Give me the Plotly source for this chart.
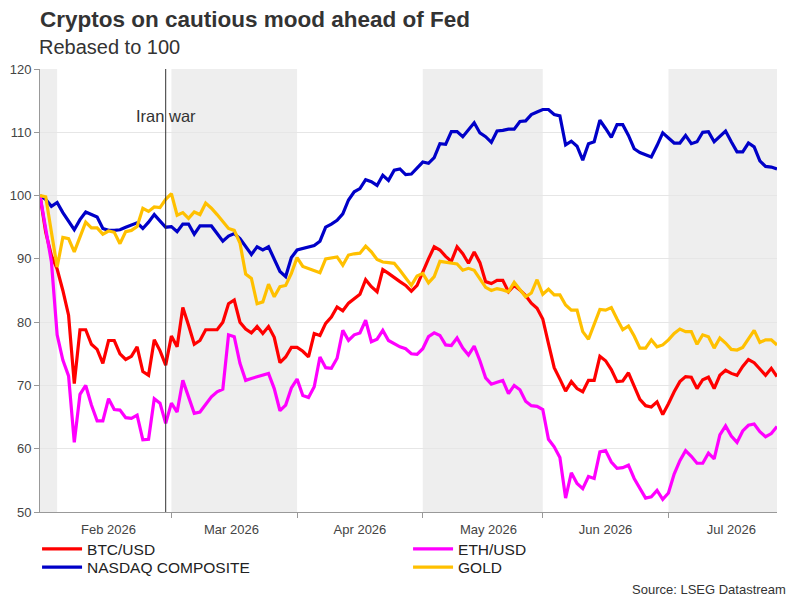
import plotly.graph_objects as go
import pandas as pd

# business days, Jan 28 - Jul 28 2026 (130 sessions)
dates = pd.bdate_range("2026-01-28", "2026-07-28")

btc = [100, 94.2, 90.5, 88.4, 85.0, 81.1, 70.3, 78.8, 78.8, 76.5,
       75.7, 73.5, 77.1, 77.1, 75.0, 74.1, 74.6, 76.1, 72.2, 71.6,
       77.2, 75.5, 73.2, 77.8, 76.1, 82.3, 79.5, 76.5, 77.1, 78.8,
       78.8, 78.8, 80.0, 82.9, 83.5, 80.0, 78.9, 78.3, 79.3, 78.2,
       79.3, 77.6, 73.6, 74.5, 76.0, 76.0, 75.4, 74.5, 78.2, 77.9,
       79.8, 80.8, 82.4, 81.8, 83.0, 83.7, 84.4, 86.7, 85.6, 84.8,
       88.3, 87.7, 87.0, 86.4, 85.8, 84.9, 85.8, 88.0, 90.0, 91.9,
       91.4, 90.4, 89.6, 91.9, 90.8, 89.3, 91.1, 89.4, 86.4, 86.1,
       86.6, 86.6, 84.8, 85.8, 85.1, 84.2, 83.0, 82.2, 80.5, 76.6,
       72.8, 71.0, 69.1, 70.6, 69.5, 69.0, 70.8, 70.8, 74.6, 73.9,
       72.5, 70.6, 70.7, 72.0, 70.0, 67.8, 66.8, 66.6, 67.4, 65.4,
       67.1, 69.0, 70.6, 71.4, 71.3, 69.5, 70.9, 71.3, 69.5, 71.6,
       72.4, 71.9, 71.6, 73.0, 74.1, 73.6, 72.6, 71.6, 72.7, 71.4]

eth = [100, 94.5, 89.5, 78.0, 74.0, 71.5, 61.0, 68.6, 70.0, 66.9,
       64.4, 64.4, 67.9, 66.2, 66.1, 64.9, 64.8, 65.3, 61.4, 61.5,
       67.9, 67.2, 64.0, 67.2, 65.8, 70.8, 68.2, 65.6, 65.8, 67.1,
       68.2, 69.0, 69.4, 78.0, 77.7, 73.5, 70.8, 71.1, 71.4, 71.7,
       71.9, 69.5, 66.0, 66.9, 69.6, 71.0, 68.4, 68.1, 69.8, 74.5,
       72.8, 72.7, 74.3, 78.7, 77.1, 78.0, 78.3, 80.3, 76.9, 77.3,
       78.7, 77.1, 76.6, 76.1, 75.8, 75.0, 74.9, 75.8, 77.7, 78.3,
       77.9, 76.4, 76.3, 77.5, 75.9, 74.8, 76.2, 73.9, 71.2, 70.2,
       70.5, 70.8, 68.7, 70.0, 69.3, 67.5, 66.8, 66.7, 66.2, 61.5,
       60.3, 58.6, 52.2, 56.2, 54.5, 53.7, 55.6, 55.3, 59.5, 59.7,
       57.9, 56.9, 57.0, 57.4, 55.3, 53.8, 52.2, 52.4, 53.4, 52.0,
       53.0, 56.0, 58.1, 59.7, 58.8, 57.7, 57.7, 59.3, 58.4, 62.2,
       63.6, 62.0, 61.0, 62.8, 63.7, 63.9, 62.7, 61.9, 62.4, 63.5]

nasdaq = [100, 99.4, 98.3, 98.9, 97.3, 96.0, 94.6, 96.2, 97.4, 97.0,
          96.6, 94.8, 94.5, 94.5, 94.6, 95.0, 95.3, 95.7, 94.8, 95.8,
          97.0, 96.0, 95.0, 95.1, 94.3, 95.5, 95.5, 93.9, 95.2, 95.2,
          95.2, 94.0, 92.8, 93.6, 94.0, 93.2, 92.0, 90.7, 91.9, 91.4,
          91.9, 89.8, 88.0, 87.2, 90.2, 91.4, 91.6, 91.9, 92.1, 92.8,
          95.0, 95.5, 96.1, 97.1, 99.3, 100.6, 101.1, 102.5, 102.2, 101.6,
          103.2, 102.4, 104.0, 104.2, 103.3, 103.4, 104.3, 105.3, 105.1, 106.0,
          108.2, 108.1, 110.1, 110.1, 109.3, 110.4, 111.5, 109.9, 109.3, 108.4,
          110.2, 110.3, 110.5, 110.5, 111.7, 111.8, 112.8, 113.2, 113.6, 113.6,
          112.8, 112.6, 108.0, 108.6, 107.8, 105.6, 108.2, 108.5, 111.9, 110.6,
          109.2, 111.2, 111.2, 109.5, 107.4, 106.8, 106.5, 106.1, 107.9, 109.9,
          109.1, 108.3, 108.3, 109.5, 108.2, 108.5, 110.0, 110.1, 108.5, 109.4,
          110.2, 108.5, 106.9, 106.9, 108.3, 107.7, 105.5, 104.6, 104.5, 104.2]

gold = [100, 99.8, 94.2, 88.7, 93.4, 93.2, 91.1, 93.5, 95.8, 94.9,
        94.9, 93.9, 94.4, 94.2, 92.4, 94.3, 94.5, 95.1, 98.0, 97.5,
        98.2, 98.1, 99.4, 100.3, 96.9, 97.3, 96.4, 97.4, 97.0, 98.8,
        98.0, 97.0, 95.8, 94.8, 94.5, 92.5, 87.6, 86.9, 82.9, 83.2,
        86.0, 84.0, 85.6, 85.8, 87.7, 90.2, 88.8, 88.5, 88.1, 87.8,
        90.0, 90.2, 90.3, 89.0, 90.6, 90.8, 90.9, 92.0, 91.1, 89.9,
        89.5, 89.4, 89.3, 88.2, 86.9, 85.8, 87.3, 87.7, 86.2, 87.2,
        89.6, 89.5, 89.3, 89.2, 88.2, 88.5, 88.2, 86.8, 85.5, 85.0,
        85.3, 85.1, 84.8, 86.3, 85.2, 84.0, 84.6, 86.7, 84.4, 85.2,
        84.3, 84.3, 82.7, 81.9, 81.9, 78.5, 77.3, 79.5, 82.0, 81.9,
        82.3, 80.5, 78.8, 79.4, 77.8, 75.9, 75.9, 77.2, 76.1, 76.4,
        77.2, 78.2, 78.9, 78.5, 78.5, 76.5, 78.0, 77.7, 75.9, 77.5,
        76.7, 75.7, 75.6, 76.0, 77.3, 78.7, 76.8, 77.2, 77.2, 76.4]

# shaded months (alternate months)
shade_periods = [("2026-01-28", "2026-02-02"), ("2026-03-02", "2026-04-01"),
                 ("2026-05-01", "2026-06-01"), ("2026-07-01", "2026-07-28")]
event_date = "2026-02-27"
event_label = "Iran war"

FONT = "Liberation Sans, Arial, sans-serif"

fig = go.Figure()

# draw order: BTC at the bottom, gold on top
# two legends, one per row, so the rows can sit close together
series = [
    ("BTC/USD", btc, "#ff0000", "legend", 1),
    ("NASDAQ COMPOSITE", nasdaq, "#0000c8", "legend2", 1),
    ("ETH/USD", eth, "#ff00ff", "legend", 2),
    ("GOLD", gold, "#ffc000", "legend2", 2),
]
for name, vals, color, leg, rank in series:
    fig.add_trace(go.Scatter(x=dates, y=vals, mode="lines", name=name,
                             line=dict(color=color, width=3.2),
                             legend=leg, legendrank=rank))

for start, end in shade_periods:
    fig.add_shape(type="rect", xref="x", yref="paper", x0=start, x1=end,
                  y0=0, y1=1, fillcolor="#eeeeee", line_width=0, layer="below")

fig.add_shape(type="line", xref="x", yref="paper", x0=event_date, x1=event_date,
              y0=0, y1=1, line=dict(color="#333333", width=1))
fig.add_annotation(x=event_date, y=112.5, xref="x", yref="y", text=event_label,
                   showarrow=False, font=dict(family=FONT, size=16.5, color="#333333"))

fig.add_annotation(x=-0.004, y=1.05, xref="paper", yref="paper", xanchor="left",
                   yanchor="middle", text="Rebased to 100", showarrow=False,
                   font=dict(family=FONT, size=20, color="#333333"))
fig.add_annotation(x=1.015, y=-0.175, xref="paper", yref="paper", xanchor="right",
                   yanchor="middle", text="Source: LSEG Datastream", showarrow=False,
                   font=dict(family=FONT, size=13, color="#333333"))

legend_style = dict(orientation="h", x=-0.004, xanchor="left", yanchor="top",
                    itemwidth=40, entrywidth=316, bgcolor="rgba(0,0,0,0)",
                    font=dict(family=FONT, size=15.5, color="#222222"))

# the page body has an 8px margin, so the figure is 792x592 and sits at (8, 8)
fig.update_layout(
    width=792, height=592,
    margin=dict(l=31.5, r=22.5, t=61, b=87.5, autoexpand=False),
    paper_bgcolor="white", plot_bgcolor="white",
    font=dict(family=FONT, color="#333333"),
    title=dict(text="<b>Cryptos on cautious mood ahead of Fed</b>",
               x=0.0404, xanchor="left", y=0.982, yanchor="middle",
               font=dict(family=FONT, size=22.5, color="#333333")),
    showlegend=True,
    legend=dict(legend_style, y=-0.046),
    legend2=dict(legend_style, y=-0.087),
)

fig.update_xaxes(type="date", range=["2026-01-28", "2026-07-28"],
                 rangebreaks=[dict(bounds=["sat", "mon"])],
                 dtick="M1", tickformat="%b %Y", ticklabelmode="period",
                 ticks="outside", ticklen=5, tickcolor="#999999",
                 showline=True, linecolor="#999999", showgrid=False,
                 tickfont=dict(family=FONT, size=13, color="#444444"))
fig.update_yaxes(range=[50, 120], dtick=10, ticks="outside", ticklen=5,
                 tickcolor="#999999", showline=True, linecolor="#999999",
                 showgrid=True, gridcolor="#e6e6e6", zeroline=False,
                 tickfont=dict(family=FONT, size=13, color="#444444"))

fig.write_html("out.html")
